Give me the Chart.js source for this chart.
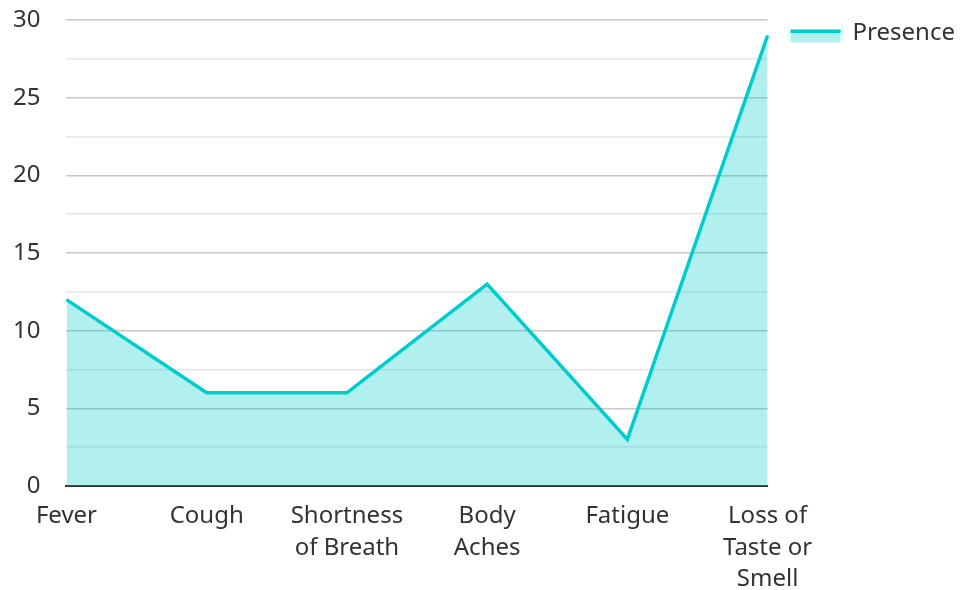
<!DOCTYPE html>
<html>
<head>
<meta charset="utf-8">
<script src="https://cdn.jsdelivr.net/npm/chart.js@4.4.0/dist/chart.umd.min.js"></script>
<style>
  html, body { margin: 0; padding: 0; background: #fff; }
  #wrap { width: 960px; height: 590px; }
</style>
</head>
<body>
<div id="wrap"><canvas id="chartTrieuChung"></canvas></div>
<script>
const labels = [['Fever'], ['Cough'], ['Shortness', 'of Breath'], ['Body', 'Aches'], ['Fatigue'], ['Loss of', 'Taste or', 'Smell']];
const dataPresence = [12, 6, 6, 13, 3, 29];
const yTicks = [0, 5, 10, 15, 20, 25, 30];

const lineColor = 'rgb(0, 204, 204)';
const fillColor = 'rgba(0, 204, 204, 0.3)';
const fontFamily = '"Noto Sans", sans-serif';

// ve lai o legend: duong ke o tren, mau nen o duoi
const legendLinePlugin = {
    id: 'legendLine',
    afterDraw: function (chart) {
        const legend = chart.legend;
        if (!legend || !legend.legendHitBoxes) return;
        const ctx = chart.ctx;
        const boxW = legend.options.labels.boxWidth;
        const boxH = legend.options.labels.boxHeight;
        legend.legendHitBoxes.forEach(function (hb) {
            const oldTop = hb.top + (hb.height - boxH) / 2;
            const top = oldTop + 3;
            ctx.save();
            ctx.fillStyle = '#fff';
            ctx.fillRect(hb.left - 2, oldTop - 3, boxW + 4, boxH + 6);
            ctx.fillStyle = fillColor;
            ctx.fillRect(hb.left, top, boxW, boxH);
            ctx.strokeStyle = lineColor;
            ctx.lineWidth = 3.5;
            ctx.beginPath();
            ctx.moveTo(hb.left, top + 1.75);
            ctx.lineTo(hb.left + boxW, top + 1.75);
            ctx.stroke();
            ctx.restore();
        });
    }
};

const ctx = document.getElementById('chartTrieuChung');
new Chart(ctx, {
    type: 'line',
    data: {
        labels: labels,
        datasets: [{
            label: 'Presence',
            data: dataPresence,
            borderColor: lineColor,
            backgroundColor: fillColor,
            borderWidth: 3.5,
            fill: 'origin',
            tension: 0,
            pointRadius: 0
        }]
    },
    options: {
        responsive: true,
        maintainAspectRatio: false,
        animation: false,
        layout: { padding: { top: -2, left: -13, right: -5, bottom: -19.6 } },
        plugins: {
            tooltip: { enabled: false },
            legend: {
                position: 'right',
                align: 'start',
                labels: {
                    boxWidth: 50,
                    boxHeight: 13,
                    padding: 23,
                    color: '#333',
                    font: { family: fontFamily, size: 24 }
                }
            }
        },
        scales: {
            x: {
                offset: false,
                grid: { display: false, drawTicks: false },
                border: { display: true, color: '#333', width: 2 },
                ticks: {
                    color: '#333',
                    padding: 15,
                    maxRotation: 0,
                    autoSkip: false,
                    font: { family: fontFamily, size: 24, lineHeight: 1.3 }
                }
            },
            y: {
                min: 0,
                max: 30,
                border: { display: false },
                grid: {
                    drawTicks: false,
                    lineWidth: 1.5,
                    color: function (c) {
                        return (c.tick && yTicks.indexOf(c.tick.value) >= 0) ? '#c8c8c8' : '#e6e6e6';
                    }
                },
                ticks: {
                    stepSize: 2.5,
                    color: '#333',
                    padding: 26,
                    font: { family: fontFamily, size: 24 },
                    callback: function (v) {
                        return yTicks.indexOf(v) >= 0 ? v : '';
                    }
                },
                afterFit: function (s) {
                    s.paddingTop = 20;
                    s.paddingBottom = 0;
                }
            }
        }
    },
    plugins: [legendLinePlugin]
});
</script>
</body>
</html>
